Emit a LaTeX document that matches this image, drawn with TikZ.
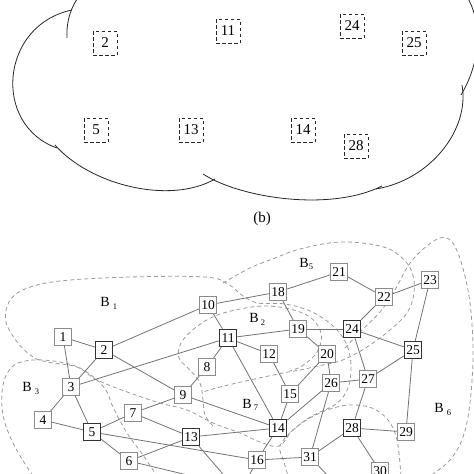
\documentclass[tikz,border=0pt]{standalone}
\usepackage{fontspec}
\setmainfont{Liberation Serif}
\begin{document}
\begin{tikzpicture}[x=1pt,y=-1pt,
  cloudline/.style={draw=black!85,line width=0.8pt},
  cbox/.style={draw=black!85,dash pattern=on 3.5pt off 2.5pt,line width=0.8pt,minimum width=24pt,minimum height=24pt,inner sep=0pt,font=\fontsize{15}{15}\selectfont},
  nd/.style={draw=black!45,fill=white,line width=0.9pt,minimum width=17pt,minimum height=17pt,inner sep=0.5pt,font=\fontsize{13.5}{13.5}\selectfont},
  hd/.style={nd,draw=black!80,line width=1.5pt},
  ed/.style={draw=black!55,line width=0.8pt},
  reg/.style={draw=black!40,line width=0.8pt,dash pattern=on 4pt off 3pt},
  blab/.style={inner sep=0pt,font=\fontsize{14}{14}\selectfont},
  sub/.style={inner sep=0pt,font=\fontsize{8.5}{8.5}\selectfont}]
\useasboundingbox (0,0) rectangle (474,474);
\clip (0,0) rectangle (474,474);
% ---------- cloud (top) ----------
\draw[cloudline] (67,38) .. controls (66,20) and (72,5) .. (80,-5);
\draw[cloudline] (72,10) .. controls (0,25) and (-8,125) .. (57,148);
\draw[cloudline] (55,145) .. controls (90,185) and (170,205) .. (215,179);
\draw[cloudline] (203,174) .. controls (240,198) and (330,212) .. (382,186);
\draw[cloudline] (376,189) .. controls (430,180) and (470,130) .. (462,85);
\draw[cloudline] (461,95) .. controls (482,60) and (482,20) .. (466,-5);
\node[cbox] (c2) at (105,43) {2};
\node[cbox] (c11) at (228,31) {11};
\node[cbox] (c24) at (352,26) {24};
\node[cbox] (c25) at (414,43) {25};
\node[cbox] (c5) at (96,130) {5};
\node[cbox] (c13) at (191,130) {13};
\node[cbox] (c14) at (303,130) {14};
\node[cbox] (c28) at (356,146) {28};
\node[inner sep=0pt,font=\fontsize{15}{15}\selectfont] (cap) at (262,219) {(b)};
% ---------- dashed regions ----------
% B1
\draw[reg] plot[smooth cycle,tension=0.6] coordinates {(47,362) (33,357) (18,343) (6,322) (9,302) (25,289) (60,281) (130,277) (205,277) (228,284) (243,296) (258,303) (285,304) (310,311) (332,325) (346,343) (351,365) (348,388) (336,404) (312,416) (293,430) (279,446) (260,442) (240,433) (213,423) (187,410) (160,403) (130,393) (97,380) (77,367)};
% B3
\draw[reg] plot[smooth,tension=0.6] coordinates {(33,476) (14,445) (3,415) (3,385) (13,366) (33,360) (60,362) (80,368) (97,380) (107,392) (113,407) (127,433) (143,455) (157,476)};
% B2
\draw[reg] plot[smooth,tension=0.6] coordinates {(213,426) (205,415) (203,400) (200,383) (190,370) (179,358) (181,343) (195,328) (215,316) (240,309) (265,306) (290,309) (310,317) (320,330) (321,342) (315,355) (302,366) (290,371)};
% B5
\draw[reg] plot[smooth,tension=0.6] coordinates {(223,283) (250,268) (275,258) (300,249) (340,242) (380,246) (400,256) (412,272) (414,293) (407,313) (390,330) (373,343) (357,353) (340,361) (318,366) (300,370) (283,373) (250,380) (220,387) (203,392)};
% B6
\draw[reg] plot[smooth,tension=0.6] coordinates {(345,348) (360,332) (380,312) (395,290) (408,266) (422,250) (440,238) (452,242) (462,265) (470,303) (473,353) (470,403) (463,437) (450,460) (430,476)};
% lower region
\draw[reg] plot[smooth,tension=0.6] coordinates {(401,476) (397,440) (388,420) (372,408) (350,405) (330,409) (310,418) (293,430) (280,446) (284,462) (288,476)};
% ---------- region labels ----------
\node[blab] (lB1) at (105,302) {B}; \node[sub] (sB1) at (115,307) {1};
\node[blab] (lB2) at (254,318) {B}; \node[sub] (sB2) at (263,323) {2};
\node[blab] (lB3) at (27,387) {B}; \node[sub] (sB3) at (37,392) {3};
\node[blab] (lB5) at (304,263) {B}; \node[sub] (sB5) at (311,267) {5};
\node[blab] (lB6) at (439,408) {B}; \node[sub] (sB6) at (449,413) {6};
\node[blab] (lB7) at (247,404) {B}; \node[sub] (sB7) at (256,408) {7};
% ---------- nodes ----------
\node[nd] (n1) at (63,337) {1};
\node[hd] (n2) at (104,350) {2};
\node[nd] (n3) at (71,387) {3};
\node[nd] (n4) at (43,420) {4};
\node[hd] (n5) at (92,432) {5};
\node[nd] (n6) at (129,461) {6};
\node[nd] (n7) at (133,413) {7};
\node[nd] (n8) at (207,367) {8};
\node[nd] (n9) at (183,395) {9};
\node[nd] (n10) at (208,305) {10};
\node[hd] (n11) at (228,338) {11};
\node[nd] (n12) at (269,354) {12};
\node[hd] (n13) at (191,437) {13};
\node[hd] (n14) at (278,428) {14};
\node[nd] (n15) at (290,394) {15};
\node[nd] (n16) at (257,460) {16};
\node[nd] (n18) at (278,292) {18};
\node[nd] (n19) at (298,329) {19};
\node[nd] (n20) at (327,354) {20};
\node[nd] (n21) at (339,272) {21};
\node[nd] (n22) at (384,297) {22};
\node[nd] (n23) at (430,280) {23};
\node[hd] (n24) at (352,329) {24};
\node[hd] (n25) at (413,350) {25};
\node[nd] (n26) at (331,383) {26};
\node[nd] (n27) at (368,379) {27};
\node[hd] (n28) at (352,428) {28};
\node[nd] (n29) at (406,432) {29};
\node[nd] (n30) at (380,471) {30};
\node[nd] (n31) at (310,457) {31};
\coordinate (o6) at (200,478);
\coordinate (o13) at (228,480);
\coordinate (o16) at (247,480);
\coordinate (o31) at (332,480);
% ---------- edges ----------
\foreach \a/\b in {1/2,1/3,2/3,2/10,2/9,3/11,3/4,3/5,4/5,5/7,5/6,5/16,6/13,7/9,7/13,8/11,8/9,9/14,10/18,10/11,11/14,11/12,11/19,12/15,13/14,14/15,14/26,14/16,15/20,16/31,18/21,18/19,19/24,19/20,20/26,21/22,22/23,22/24,23/25,24/25,24/27,25/27,25/29,26/27,26/31,27/28,28/29,28/30,28/31}
  \draw[ed] (n\a) -- (n\b);
\draw[ed] (n6) -- (o6);
\draw[ed] (n13) -- (o13);
\draw[ed] (n16) -- (o16);
\draw[ed] (n31) -- (o31);
\end{tikzpicture}
\end{document}
